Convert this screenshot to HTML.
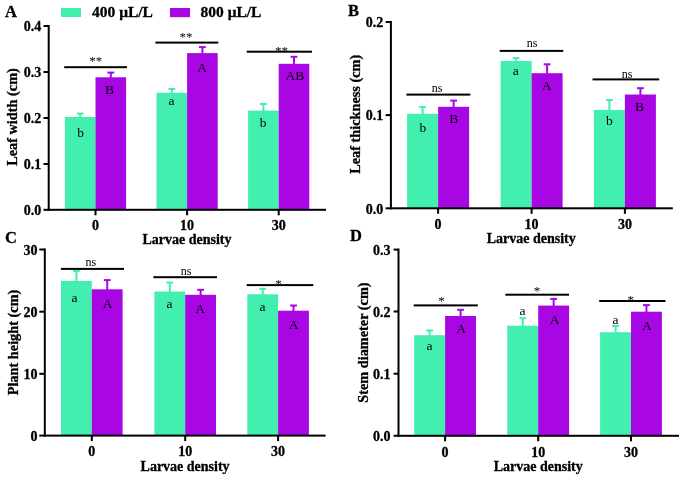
<!DOCTYPE html>
<html><head><meta charset="utf-8"><style>
html,body{margin:0;padding:0;background:#fff;}
svg{display:block;filter:blur(0.45px);}
text{font-family:'Liberation Serif','Times New Roman',serif;}
</style></head><body>
<svg width="685" height="478" viewBox="0 0 685 478">
<rect x="0" y="0" width="685" height="478" fill="#fff"/>
<rect x="64.90" y="117.00" width="30.60" height="92.80" fill="#42EFAE"/>
<rect x="79.20" y="113.60" width="2.00" height="3.90" fill="#42EFAE"/>
<rect x="76.80" y="112.60" width="6.80" height="2.00" fill="#42EFAE"/>
<rect x="95.50" y="77.30" width="30.60" height="132.50" fill="#A906E4"/>
<rect x="109.80" y="72.60" width="2.00" height="5.20" fill="#A906E4"/>
<rect x="107.40" y="71.60" width="6.80" height="2.00" fill="#A906E4"/>
<rect x="156.50" y="92.80" width="30.60" height="117.00" fill="#42EFAE"/>
<rect x="170.80" y="88.90" width="2.00" height="4.40" fill="#42EFAE"/>
<rect x="168.40" y="87.90" width="6.80" height="2.00" fill="#42EFAE"/>
<rect x="187.10" y="53.10" width="30.60" height="156.70" fill="#A906E4"/>
<rect x="201.40" y="47.10" width="2.00" height="6.50" fill="#A906E4"/>
<rect x="199.00" y="46.10" width="6.80" height="2.00" fill="#A906E4"/>
<rect x="248.10" y="110.60" width="30.60" height="99.20" fill="#42EFAE"/>
<rect x="262.40" y="104.00" width="2.00" height="7.10" fill="#42EFAE"/>
<rect x="260.00" y="103.00" width="6.80" height="2.00" fill="#42EFAE"/>
<rect x="278.70" y="63.80" width="30.60" height="146.00" fill="#A906E4"/>
<rect x="293.00" y="56.80" width="2.00" height="7.50" fill="#A906E4"/>
<rect x="290.60" y="55.80" width="6.80" height="2.00" fill="#A906E4"/>
<rect x="47.70" y="25.00" width="2.00" height="185.80" fill="#000"/>
<rect x="47.70" y="208.80" width="278.30" height="2.00" fill="#000"/>
<rect x="43.50" y="25.00" width="5.20" height="2.00" fill="#000"/>
<text x="41.20" y="31.20" font-size="14" font-weight="bold" text-anchor="end" fill="#000" stroke="#000" stroke-width="0.3">0.4</text>
<rect x="43.50" y="71.00" width="5.20" height="2.00" fill="#000"/>
<text x="41.20" y="77.20" font-size="14" font-weight="bold" text-anchor="end" fill="#000" stroke="#000" stroke-width="0.3">0.3</text>
<rect x="43.50" y="117.00" width="5.20" height="2.00" fill="#000"/>
<text x="41.20" y="123.20" font-size="14" font-weight="bold" text-anchor="end" fill="#000" stroke="#000" stroke-width="0.3">0.2</text>
<rect x="43.50" y="163.00" width="5.20" height="2.00" fill="#000"/>
<text x="41.20" y="169.20" font-size="14" font-weight="bold" text-anchor="end" fill="#000" stroke="#000" stroke-width="0.3">0.1</text>
<rect x="43.50" y="208.80" width="5.20" height="2.00" fill="#000"/>
<text x="41.20" y="215.00" font-size="14" font-weight="bold" text-anchor="end" fill="#000" stroke="#000" stroke-width="0.3">0.0</text>
<rect x="94.50" y="209.80" width="2.00" height="5.50" fill="#000"/>
<text x="95.50" y="229.60" font-size="14" font-weight="bold" text-anchor="middle" fill="#000" stroke="#000" stroke-width="0.3">0</text>
<rect x="186.10" y="209.80" width="2.00" height="5.50" fill="#000"/>
<text x="187.10" y="229.60" font-size="14" font-weight="bold" text-anchor="middle" fill="#000" stroke="#000" stroke-width="0.3">10</text>
<rect x="277.70" y="209.80" width="2.00" height="5.50" fill="#000"/>
<text x="278.70" y="229.60" font-size="14" font-weight="bold" text-anchor="middle" fill="#000" stroke="#000" stroke-width="0.3">30</text>
<text x="187.00" y="243.50" font-size="14" font-weight="bold" text-anchor="middle" fill="#000" stroke="#000" stroke-width="0.3">Larvae density</text>
<text x="16.80" y="117.00" font-size="14.3" font-weight="bold" text-anchor="middle" fill="#000" stroke="#000" stroke-width="0.3" transform="rotate(-90 16.80 117.00)">Leaf width (cm)</text>
<text x="5.00" y="17.30" font-size="16.5" font-weight="bold" text-anchor="start" fill="#000" stroke="#000" stroke-width="0.3">A</text>
<rect x="64.20" y="66.20" width="62.80" height="2.00" fill="#000"/>
<text x="95.70" y="65.00" font-size="13" font-weight="normal" text-anchor="middle" fill="#000">**</text>
<text x="80.50" y="136.50" font-size="13.5" font-weight="normal" text-anchor="middle" fill="#000">b</text>
<text x="109.50" y="93.50" font-size="13.5" font-weight="normal" text-anchor="middle" fill="#000">B</text>
<rect x="155.40" y="41.60" width="62.90" height="2.00" fill="#000"/>
<text x="186.00" y="40.80" font-size="13" font-weight="normal" text-anchor="middle" fill="#000">**</text>
<text x="171.50" y="104.50" font-size="13.5" font-weight="normal" text-anchor="middle" fill="#000">a</text>
<text x="202.10" y="72.00" font-size="13.5" font-weight="normal" text-anchor="middle" fill="#000">A</text>
<rect x="246.70" y="50.70" width="65.30" height="2.00" fill="#000"/>
<text x="281.50" y="54.50" font-size="13" font-weight="normal" text-anchor="middle" fill="#000">**</text>
<text x="263.20" y="127.00" font-size="13.5" font-weight="normal" text-anchor="middle" fill="#000">b</text>
<text x="294.80" y="79.70" font-size="13.5" font-weight="normal" text-anchor="middle" fill="#000">AB</text>
<rect x="407.10" y="113.80" width="31.00" height="94.50" fill="#42EFAE"/>
<rect x="421.60" y="107.10" width="2.00" height="7.20" fill="#42EFAE"/>
<rect x="419.20" y="106.10" width="6.80" height="2.00" fill="#42EFAE"/>
<rect x="438.10" y="106.80" width="31.00" height="101.50" fill="#A906E4"/>
<rect x="452.60" y="100.60" width="2.00" height="6.70" fill="#A906E4"/>
<rect x="450.20" y="99.60" width="6.80" height="2.00" fill="#A906E4"/>
<rect x="500.60" y="61.00" width="31.00" height="147.30" fill="#42EFAE"/>
<rect x="515.10" y="58.10" width="2.00" height="3.40" fill="#42EFAE"/>
<rect x="512.70" y="57.10" width="6.80" height="2.00" fill="#42EFAE"/>
<rect x="531.60" y="73.20" width="31.00" height="135.10" fill="#A906E4"/>
<rect x="546.10" y="64.30" width="2.00" height="9.40" fill="#A906E4"/>
<rect x="543.70" y="63.30" width="6.80" height="2.00" fill="#A906E4"/>
<rect x="593.90" y="109.90" width="31.00" height="98.40" fill="#42EFAE"/>
<rect x="608.40" y="100.10" width="2.00" height="10.30" fill="#42EFAE"/>
<rect x="606.00" y="99.10" width="6.80" height="2.00" fill="#42EFAE"/>
<rect x="624.90" y="94.50" width="31.00" height="113.80" fill="#A906E4"/>
<rect x="639.40" y="88.20" width="2.00" height="6.80" fill="#A906E4"/>
<rect x="637.00" y="87.20" width="6.80" height="2.00" fill="#A906E4"/>
<rect x="389.90" y="21.00" width="2.00" height="188.30" fill="#000"/>
<rect x="389.90" y="207.30" width="282.90" height="2.00" fill="#000"/>
<rect x="385.60" y="21.00" width="5.30" height="2.00" fill="#000"/>
<text x="383.20" y="27.20" font-size="14" font-weight="bold" text-anchor="end" fill="#000" stroke="#000" stroke-width="0.3">0.2</text>
<rect x="385.60" y="114.10" width="5.30" height="2.00" fill="#000"/>
<text x="383.20" y="120.30" font-size="14" font-weight="bold" text-anchor="end" fill="#000" stroke="#000" stroke-width="0.3">0.1</text>
<rect x="385.60" y="207.30" width="5.30" height="2.00" fill="#000"/>
<text x="383.20" y="213.50" font-size="14" font-weight="bold" text-anchor="end" fill="#000" stroke="#000" stroke-width="0.3">0.0</text>
<rect x="437.10" y="208.30" width="2.00" height="5.50" fill="#000"/>
<text x="438.10" y="228.60" font-size="14" font-weight="bold" text-anchor="middle" fill="#000" stroke="#000" stroke-width="0.3">0</text>
<rect x="530.60" y="208.30" width="2.00" height="5.50" fill="#000"/>
<text x="531.60" y="228.60" font-size="14" font-weight="bold" text-anchor="middle" fill="#000" stroke="#000" stroke-width="0.3">10</text>
<rect x="623.90" y="208.30" width="2.00" height="5.50" fill="#000"/>
<text x="624.90" y="228.60" font-size="14" font-weight="bold" text-anchor="middle" fill="#000" stroke="#000" stroke-width="0.3">30</text>
<text x="531.20" y="243.00" font-size="14" font-weight="bold" text-anchor="middle" fill="#000" stroke="#000" stroke-width="0.3">Larvae density</text>
<text x="360.50" y="114.30" font-size="14.3" font-weight="bold" text-anchor="middle" fill="#000" stroke="#000" stroke-width="0.3" transform="rotate(-90 360.50 114.30)">Leaf thickness (cm)</text>
<text x="348.00" y="15.80" font-size="16.5" font-weight="bold" text-anchor="start" fill="#000" stroke="#000" stroke-width="0.3">B</text>
<rect x="406.40" y="93.60" width="63.90" height="2.00" fill="#000"/>
<text x="437.00" y="91.50" font-size="12" font-weight="normal" text-anchor="middle" fill="#000">ns</text>
<text x="422.90" y="131.70" font-size="13.5" font-weight="normal" text-anchor="middle" fill="#000">b</text>
<text x="453.80" y="122.50" font-size="13.5" font-weight="normal" text-anchor="middle" fill="#000">B</text>
<rect x="499.70" y="49.90" width="63.60" height="2.00" fill="#000"/>
<text x="532.20" y="47.40" font-size="12" font-weight="normal" text-anchor="middle" fill="#000">ns</text>
<text x="515.80" y="75.00" font-size="13.5" font-weight="normal" text-anchor="middle" fill="#000">a</text>
<text x="546.70" y="90.40" font-size="13.5" font-weight="normal" text-anchor="middle" fill="#000">A</text>
<rect x="592.50" y="78.40" width="66.70" height="2.00" fill="#000"/>
<text x="627.00" y="77.70" font-size="12" font-weight="normal" text-anchor="middle" fill="#000">ns</text>
<text x="609.30" y="124.80" font-size="13.5" font-weight="normal" text-anchor="middle" fill="#000">b</text>
<text x="639.60" y="111.00" font-size="13.5" font-weight="normal" text-anchor="middle" fill="#000">B</text>
<rect x="61.00" y="280.90" width="30.80" height="154.70" fill="#42EFAE"/>
<rect x="75.40" y="270.90" width="2.00" height="10.50" fill="#42EFAE"/>
<rect x="73.00" y="269.90" width="6.80" height="2.00" fill="#42EFAE"/>
<rect x="91.80" y="289.30" width="30.80" height="146.30" fill="#A906E4"/>
<rect x="106.20" y="280.10" width="2.00" height="9.70" fill="#A906E4"/>
<rect x="103.80" y="279.10" width="6.80" height="2.00" fill="#A906E4"/>
<rect x="154.40" y="291.50" width="30.80" height="144.10" fill="#42EFAE"/>
<rect x="168.80" y="282.60" width="2.00" height="9.40" fill="#42EFAE"/>
<rect x="166.40" y="281.60" width="6.80" height="2.00" fill="#42EFAE"/>
<rect x="185.20" y="294.80" width="30.80" height="140.80" fill="#A906E4"/>
<rect x="199.60" y="289.80" width="2.00" height="5.50" fill="#A906E4"/>
<rect x="197.20" y="288.80" width="6.80" height="2.00" fill="#A906E4"/>
<rect x="247.30" y="294.30" width="30.80" height="141.30" fill="#42EFAE"/>
<rect x="261.70" y="288.80" width="2.00" height="6.00" fill="#42EFAE"/>
<rect x="259.30" y="287.80" width="6.80" height="2.00" fill="#42EFAE"/>
<rect x="278.10" y="310.70" width="30.80" height="124.90" fill="#A906E4"/>
<rect x="292.50" y="305.50" width="2.00" height="5.70" fill="#A906E4"/>
<rect x="290.10" y="304.50" width="6.80" height="2.00" fill="#A906E4"/>
<rect x="43.80" y="248.50" width="2.00" height="188.10" fill="#000"/>
<rect x="43.80" y="434.60" width="281.80" height="2.00" fill="#000"/>
<rect x="39.30" y="248.50" width="5.50" height="2.00" fill="#000"/>
<text x="37.40" y="254.70" font-size="14" font-weight="bold" text-anchor="end" fill="#000" stroke="#000" stroke-width="0.3">30</text>
<rect x="39.30" y="310.70" width="5.50" height="2.00" fill="#000"/>
<text x="37.40" y="316.90" font-size="14" font-weight="bold" text-anchor="end" fill="#000" stroke="#000" stroke-width="0.3">20</text>
<rect x="39.30" y="372.80" width="5.50" height="2.00" fill="#000"/>
<text x="37.40" y="379.00" font-size="14" font-weight="bold" text-anchor="end" fill="#000" stroke="#000" stroke-width="0.3">10</text>
<rect x="39.30" y="434.60" width="5.50" height="2.00" fill="#000"/>
<text x="37.40" y="440.80" font-size="14" font-weight="bold" text-anchor="end" fill="#000" stroke="#000" stroke-width="0.3">0</text>
<rect x="90.80" y="435.60" width="2.00" height="5.50" fill="#000"/>
<text x="91.80" y="456.20" font-size="14" font-weight="bold" text-anchor="middle" fill="#000" stroke="#000" stroke-width="0.3">0</text>
<rect x="184.20" y="435.60" width="2.00" height="5.50" fill="#000"/>
<text x="185.20" y="456.20" font-size="14" font-weight="bold" text-anchor="middle" fill="#000" stroke="#000" stroke-width="0.3">10</text>
<rect x="277.10" y="435.60" width="2.00" height="5.50" fill="#000"/>
<text x="278.10" y="456.20" font-size="14" font-weight="bold" text-anchor="middle" fill="#000" stroke="#000" stroke-width="0.3">30</text>
<text x="185.10" y="470.80" font-size="14" font-weight="bold" text-anchor="middle" fill="#000" stroke="#000" stroke-width="0.3">Larvae density</text>
<text x="18.30" y="342.50" font-size="14.3" font-weight="bold" text-anchor="middle" fill="#000" stroke="#000" stroke-width="0.3" transform="rotate(-90 18.30 342.50)">Plant height (cm)</text>
<text x="5.00" y="242.70" font-size="16.5" font-weight="bold" text-anchor="start" fill="#000" stroke="#000" stroke-width="0.3">C</text>
<rect x="60.90" y="267.90" width="63.10" height="2.00" fill="#000"/>
<text x="90.80" y="266.20" font-size="12" font-weight="normal" text-anchor="middle" fill="#000">ns</text>
<text x="74.60" y="301.70" font-size="13.5" font-weight="normal" text-anchor="middle" fill="#000">a</text>
<text x="107.70" y="308.40" font-size="13.5" font-weight="normal" text-anchor="middle" fill="#000">A</text>
<rect x="153.40" y="276.20" width="63.60" height="2.00" fill="#000"/>
<text x="186.20" y="274.50" font-size="12" font-weight="normal" text-anchor="middle" fill="#000">ns</text>
<text x="169.40" y="308.30" font-size="13.5" font-weight="normal" text-anchor="middle" fill="#000">a</text>
<text x="200.20" y="313.40" font-size="13.5" font-weight="normal" text-anchor="middle" fill="#000">A</text>
<rect x="246.70" y="284.10" width="66.60" height="2.00" fill="#000"/>
<text x="278.50" y="288.00" font-size="13" font-weight="normal" text-anchor="middle" fill="#000">*</text>
<text x="262.40" y="310.80" font-size="13.5" font-weight="normal" text-anchor="middle" fill="#000">a</text>
<text x="293.60" y="329.30" font-size="13.5" font-weight="normal" text-anchor="middle" fill="#000">A</text>
<rect x="414.20" y="335.20" width="30.90" height="100.60" fill="#42EFAE"/>
<rect x="428.65" y="330.50" width="2.00" height="5.20" fill="#42EFAE"/>
<rect x="426.25" y="329.50" width="6.80" height="2.00" fill="#42EFAE"/>
<rect x="445.10" y="316.00" width="30.90" height="119.80" fill="#A906E4"/>
<rect x="459.55" y="309.80" width="2.00" height="6.70" fill="#A906E4"/>
<rect x="457.15" y="308.80" width="6.80" height="2.00" fill="#A906E4"/>
<rect x="507.30" y="325.70" width="30.90" height="110.10" fill="#42EFAE"/>
<rect x="521.75" y="318.20" width="2.00" height="8.00" fill="#42EFAE"/>
<rect x="519.35" y="317.20" width="6.80" height="2.00" fill="#42EFAE"/>
<rect x="538.20" y="305.60" width="30.90" height="130.20" fill="#A906E4"/>
<rect x="552.65" y="298.90" width="2.00" height="7.20" fill="#A906E4"/>
<rect x="550.25" y="297.90" width="6.80" height="2.00" fill="#A906E4"/>
<rect x="600.10" y="332.20" width="30.90" height="103.60" fill="#42EFAE"/>
<rect x="614.55" y="326.00" width="2.00" height="6.70" fill="#42EFAE"/>
<rect x="612.15" y="325.00" width="6.80" height="2.00" fill="#42EFAE"/>
<rect x="631.00" y="311.70" width="30.90" height="124.10" fill="#A906E4"/>
<rect x="645.45" y="305.10" width="2.00" height="7.10" fill="#A906E4"/>
<rect x="643.05" y="304.10" width="6.80" height="2.00" fill="#A906E4"/>
<rect x="397.50" y="248.60" width="2.00" height="188.20" fill="#000"/>
<rect x="397.50" y="434.80" width="281.50" height="2.00" fill="#000"/>
<rect x="393.60" y="248.60" width="4.90" height="2.00" fill="#000"/>
<text x="390.60" y="254.80" font-size="14" font-weight="bold" text-anchor="end" fill="#000" stroke="#000" stroke-width="0.3">0.3</text>
<rect x="393.60" y="310.50" width="4.90" height="2.00" fill="#000"/>
<text x="390.60" y="316.70" font-size="14" font-weight="bold" text-anchor="end" fill="#000" stroke="#000" stroke-width="0.3">0.2</text>
<rect x="393.60" y="372.70" width="4.90" height="2.00" fill="#000"/>
<text x="390.60" y="378.90" font-size="14" font-weight="bold" text-anchor="end" fill="#000" stroke="#000" stroke-width="0.3">0.1</text>
<rect x="393.60" y="434.80" width="4.90" height="2.00" fill="#000"/>
<text x="390.60" y="441.00" font-size="14" font-weight="bold" text-anchor="end" fill="#000" stroke="#000" stroke-width="0.3">0.0</text>
<rect x="444.10" y="435.80" width="2.00" height="5.50" fill="#000"/>
<text x="445.10" y="456.60" font-size="14" font-weight="bold" text-anchor="middle" fill="#000" stroke="#000" stroke-width="0.3">0</text>
<rect x="537.20" y="435.80" width="2.00" height="5.50" fill="#000"/>
<text x="538.20" y="456.60" font-size="14" font-weight="bold" text-anchor="middle" fill="#000" stroke="#000" stroke-width="0.3">10</text>
<rect x="630.00" y="435.80" width="2.00" height="5.50" fill="#000"/>
<text x="631.00" y="456.60" font-size="14" font-weight="bold" text-anchor="middle" fill="#000" stroke="#000" stroke-width="0.3">30</text>
<text x="538.20" y="470.80" font-size="14" font-weight="bold" text-anchor="middle" fill="#000" stroke="#000" stroke-width="0.3">Larvae density</text>
<text x="368.00" y="342.60" font-size="14.3" font-weight="bold" text-anchor="middle" fill="#000" stroke="#000" stroke-width="0.3" transform="rotate(-90 368.00 342.60)">Stem diameter (cm)</text>
<text x="350.00" y="241.20" font-size="16.5" font-weight="bold" text-anchor="start" fill="#000" stroke="#000" stroke-width="0.3">D</text>
<rect x="413.70" y="304.40" width="64.10" height="2.00" fill="#000"/>
<text x="441.50" y="305.00" font-size="13" font-weight="normal" text-anchor="middle" fill="#000">*</text>
<text x="429.50" y="349.70" font-size="13.5" font-weight="normal" text-anchor="middle" fill="#000">a</text>
<text x="461.00" y="333.30" font-size="13.5" font-weight="normal" text-anchor="middle" fill="#000">A</text>
<rect x="505.40" y="293.70" width="63.60" height="2.00" fill="#000"/>
<text x="537.00" y="295.00" font-size="13" font-weight="normal" text-anchor="middle" fill="#000">*</text>
<text x="522.60" y="315.30" font-size="13.5" font-weight="normal" text-anchor="middle" fill="#000">a</text>
<text x="554.50" y="323.70" font-size="13.5" font-weight="normal" text-anchor="middle" fill="#000">A</text>
<rect x="599.20" y="300.00" width="66.30" height="2.00" fill="#000"/>
<text x="630.70" y="303.70" font-size="13" font-weight="normal" text-anchor="middle" fill="#000">*</text>
<text x="615.50" y="323.60" font-size="13.5" font-weight="normal" text-anchor="middle" fill="#000">a</text>
<text x="646.90" y="329.70" font-size="13.5" font-weight="normal" text-anchor="middle" fill="#000">A</text>
<rect x="61.00" y="8.00" width="20.00" height="9.00" fill="#42EFAE"/>
<text x="92.00" y="17.00" font-size="15.5" font-weight="bold" text-anchor="start" fill="#000" stroke="#000" stroke-width="0.3">400 μL/L</text>
<rect x="170.00" y="8.00" width="20.00" height="9.20" fill="#A906E4"/>
<text x="200.50" y="17.20" font-size="15.5" font-weight="bold" text-anchor="start" fill="#000" stroke="#000" stroke-width="0.3">800 μL/L</text>
</svg>
</body></html>
